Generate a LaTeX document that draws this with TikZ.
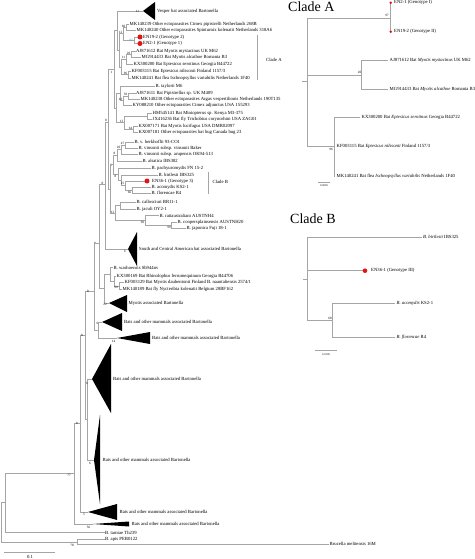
\documentclass[tikz,border=0pt]{standalone}
\usepackage{fontspec}
\setmainfont{Liberation Serif}
\definecolor{lg}{RGB}{165,165,165}
\definecolor{bsblue}{RGB}{70,130,200}
\definecolor{dotred}{RGB}{228,20,20}
\tikzset{
 br/.style={draw=lg, line width=0.45pt},
 lf/.style={anchor=west, inner sep=0.5pt, font=\fontsize{4.7}{5}\selectfont},
 lfd/.style={anchor=west, inner sep=1.5pt, font=\fontsize{4.7}{5}\selectfont},
 bs/.style={inner sep=0pt, font=\fontsize{3.3}{3.5}\selectfont},
 sbl/.style={inner sep=0pt, font=\fontsize{2.8}{3}\selectfont},
 tri/.style={fill=black},
 rdot/.style={circle, fill=dotred, inner sep=0pt, minimum size=#1},
 ttl/.style={anchor=base west, inner sep=0pt, font=\fontsize{14}{15}\selectfont},
}
\begin{document}
\begin{tikzpicture}[x=1pt,y=-1pt]
\useasboundingbox (0,0) rectangle (474,559);
\fill[white] (0,0) rectangle (474,559);

% ---------------- top group ----------------
\coordinate (V) at (143,11);
\coordinate (nC) at (117,30.5);
\coordinate (n60) at (126,27);
\coordinate (n97) at (134,40.5);
\coordinate (n12) at (123,33.5);
\coordinate (n20) at (131,54);
\coordinate (n11) at (126,59);
\coordinate (n96) at (128,74.5);
\coordinate (nA) at (121,66.75);
\coordinate (nB) at (119,50);
\coordinate (e1) at (140,37);
\coordinate (e2) at (140,43.5);

\node[lf] (tV) at (156.5,11) {Vesper bat associated Bartonella};
\node[lf] (l1) at (129,24) {MK140239 Other ectoparasites Cimex pipistrelli Netherlands 268B};
\node[lf] (l2) at (136,30) {MK140240 Other ectoparasites Spinturnix kolenatii Netherlands 318A6};
\node[lf] (l3) at (142.5,37) {EN19-2 (Genotype 2)};
\node[lf] (l4) at (142.5,43.5) {EN2-1 (Genotype 1)};
\node[lf] (l5) at (135.5,51) {AJ871612 Bat Myotis mystacinus UK M62};
\node[lf] (l6) at (141,57) {MG914433 Bat Myotis alcathoe Romania B3};
\node[lf] (l7) at (133,64) {KX300200 Bat Eptesicus serotinus Georgia B44722};
\node[lf] (l8) at (131,71) {KF003115 Bat Eptesicus nilssonii Finland 1157/3};
\node[lf] (l9) at (131,78) {MK140241 Bat flea Ischnopsyllus variabilis Netherlands 1F40};

\fill[tri] (V) -- (155,2) -- (155,20) -- cycle;
\draw[br] (n60) |- (l1.west);
\draw[br] (n60) |- (l2.west);
\draw[br] (n97) |- (e1);
\draw[br] (n97) |- (e2);
\draw[br] (n12) |- (n60);
\draw[br] (n12) |- (n97);
\draw[br] (n20) |- (l5.west);
\draw[br] (n20) |- (l6.west);
\draw[br] (n11) |- (n20);
\draw[br] (n11) |- (l7.west);
\draw[br] (n96) |- (l8.west);
\draw[br] (n96) |- (l9.west);
\draw[br] (nA) |- (n11);
\draw[br] (nA) |- (n96);
\draw[br] (nB) |- (n12);
\draw[br] (nB) |- (nA);
\draw[br] (nC) |- (V);
\draw[br] (nC) |- (nB);
\node[rdot=5pt] (d1) at (e1) {};
\node[rdot=5pt] (d2) at (e2) {};

\node[bs] (b1) at (137.5,11) {11};
\node[bs] (b2) at (123.5,26) {60};
\node[bs,text=bsblue] (b3) at (131,40) {97};
\node[bs] (b4) at (120.5,32.5) {12};
\node[bs] (b5) at (128.5,53) {20};
\node[bs] (b6) at (123.5,57.5) {11};
\node[bs] (b7) at (125.5,73) {96};

% ---------------- second group ----------------
\coordinate (n59) at (128,96);
\coordinate (n43) at (123,100.5);
\coordinate (nH) at (147,116);
\coordinate (n64) at (133,129);
\coordinate (nHK) at (124,122.5);
\coordinate (nTay) at (120,93);
\coordinate (nD) at (116,108);
\coordinate (n1) at (114,69);

\node[lf] (l10) at (155,86) {B. taylorii M6};
\node[lf] (l11) at (135.5,93) {AJ871611 Bat Pipistrellus sp. UK M409};
\node[lf] (l12) at (140,99) {MK140238 Other ectoparasites Argas vespertilionis Netherlands 190T135};
\node[lf] (l13) at (132,105) {KY088210 Other ectoparasites Cimex adjunctus USA 155293};
\node[lf] (l14) at (152,113) {HM545141 Bat Miniopterus sp. Kenya M3-375};
\node[lf] (l15) at (152,119) {JX416236 Bat fly Trichobius corynorhini USA ZAG01};
\node[lf] (l16) at (138,126) {KX007171 Bat Myotis lucifugus USA DMR02097};
\node[lf] (l17) at (138,132) {KX007181 Other ectoparasites bat bug Canada bug 23};

\draw[br] (n59) |- (l11.west);
\draw[br] (n59) |- (l12.west);
\draw[br] (n43) |- (n59);
\draw[br] (n43) |- (l13.west);
\draw[br] (nTay) |- (l10.west);
\draw[br] (nTay) |- (n43);
\draw[br] (nH) |- (l14.west);
\draw[br] (nH) |- (l15.west);
\draw[br] (n64) |- (l16.west);
\draw[br] (n64) |- (l17.west);
\draw[br] (nHK) |- (nH);
\draw[br] (nHK) |- (n64);
\draw[br] (nD) |- (nTay);
\draw[br] (nD) |- (nHK);
\draw[br] (n1) |- (nC);
\draw[br] (n1) |- (nD);

\node[bs] (b8) at (111.5,72) {1};
\node[bs] (b9) at (125.5,94.5) {59};
\node[bs] (b10) at (120.5,99) {43};
\node[bs] (b11) at (121.5,121) {13};
\node[bs] (b12) at (130.5,128) {64};

% ---------------- vinsonii / clade B group ----------------
\coordinate (n47) at (125,145);
\coordinate (n20b) at (121,149.5);
\coordinate (n8a) at (117,155.25);
\coordinate (n66) at (132,190);
\coordinate (n25) at (125,185.5);
\coordinate (nBir) at (121,180.25);
\coordinate (n8b) at (118,174);
\coordinate (n6) at (113,164.6);
\coordinate (e3) at (147,181);

\node[lf] (l18) at (134,142) {B. v. berkhoffii 93-CO1};
\node[lf] (l19) at (138,148) {B. vinsonii subsp. vinsonii Baker};
\node[lf] (l20) at (138,154) {B. vinsonii subsp. arupensis OK94-513};
\node[lf] (l21) at (142,161) {B. alsatica IBS382};
\node[lf] (l22) at (151,168) {B. pachyuromydis FN 15-2};
\node[lf] (l23) at (158,175) {B. birtlesii IBS325};
\node[lf] (l24) at (151.5,181) {EN36-1 (Genotype 3)};
\node[lf] (l25) at (151,187) {B. acomydis KS2-1};
\node[lf] (l26) at (151,193) {B. florencae R4};

\draw[br] (n47) |- (l18.west);
\draw[br] (n47) |- (l19.west);
\draw[br] (n20b) |- (n47);
\draw[br] (n20b) |- (l20.west);
\draw[br] (n8a) |- (n20b);
\draw[br] (n8a) |- (l21.west);
\draw[br] (n66) |- (l25.west);
\draw[br] (n66) |- (l26.west);
\draw[br] (n25) |- (e3);
\draw[br] (n25) |- (n66);
\draw[br] (nBir) |- (l23.west);
\draw[br] (nBir) |- (n25);
\draw[br] (n8b) |- (l22.west);
\draw[br] (n8b) |- (nBir);
\draw[br] (n6) |- (n8a);
\draw[br] (n6) |- (n8b);
\node[rdot=5pt] (d3) at (e3) {};

\node[bs] (b13) at (122.5,143) {47};
\node[bs] (b14) at (118.5,147.5) {20};
\node[bs] (b15) at (114.5,153.5) {8};
\node[bs] (b16) at (111,165) {6};
\node[bs] (b17) at (115.5,176) {8};
\node[bs] (b18) at (122.5,183.5) {25};
\node[bs] (b19) at (129.5,192.5) {66};

% Clade brackets in main tree
\coordinate (cAt) at (257,35);
\coordinate (cAb) at (257,80.5);
\draw[br] (cAt) -- (cAb);
\node[lf] (cA) at (265.5,60) {Clade A};
\coordinate (cBt) at (208,171.5);
\coordinate (cBb) at (208,193.5);
\draw[br] (cBt) -- (cBb);
\node[lf] (cB) at (212,182) {Clade B};

% ---------------- rodent group ----------------
\coordinate (nCJ) at (120,205.5);
\coordinate (n99j) at (171,225.25);
\coordinate (n96b) at (145,220.4);
\coordinate (n12b) at (115,213);
\coordinate (nR) at (110,188.8);
\coordinate (nE) at (108,122);
\coordinate (SC) at (128,249);
\coordinate (nX1) at (105,184);

\node[lf] (l27) at (136,202) {B. callosciuri BR11-1};
\node[lf] (l28) at (136,209) {B. jaculi OY2-1};
\node[lf] (l29) at (159,215.5) {B. rattaustraliani AUSTNH4};
\node[lf] (l30) at (177,222) {B. coopersplainsensis AUSTNH20};
\node[lf] (l31) at (186,228.5) {B. japonica Fuji 18-1};
\node[lf] (tSC) at (138.5,249) {South and Central American bat associated Bartonella};

\draw[br] (nCJ) |- (l27.west);
\draw[br] (nCJ) |- (l28.west);
\draw[br] (n99j) |- (l30.west);
\draw[br] (n99j) |- (l31.west);
\draw[br] (n96b) |- (l29.west);
\draw[br] (n96b) |- (n99j);
\draw[br] (n12b) |- (nCJ);
\draw[br] (n12b) |- (n96b);
\draw[br] (nR) |- (n6);
\draw[br] (nR) |- (n12b);
\draw[br] (nE) |- (n1);
\draw[br] (nE) |- (nR);
\fill[tri] (SC) -- (137,232) -- (137,266) -- cycle;
\draw[br] (nX1) |- (nE);
\draw[br] (nX1) |- (SC);

\node[bs] (b20) at (106,120) {8};
\node[bs] (b21) at (112.5,212) {12};
\node[bs] (b22) at (142.5,222) {96};
\node[bs] (b23) at (169,227) {99};
\node[bs] (b24) at (125,251.5) {6};
\node[bs] (b25) at (102.5,183.5) {8};

% ---------------- washoensis / Myotis ----------------
\coordinate (n99w) at (119,285.75);
\coordinate (nK) at (114,280.9);
\coordinate (nWa) at (110,274.2);
\coordinate (My) at (109,303);
\coordinate (nMy) at (104,288.6);
\coordinate (nX3) at (99,243);

\node[lf] (l32) at (113,267.5) {B. washoensis Sb944nv};
\node[lf] (l33) at (116,276) {KX300169 Bat Rhinolophus ferrumequinum Georgia B44706};
\node[lf] (l34) at (124,282.5) {KF003129 Bat Myotis daubentonii Finland B. naantaliensis 2574/1};
\node[lf] (l35) at (122,289) {MK140189 Bat fly Nycteribia kolenatii Belgium 28BF162};
\node[lf] (tMy) at (128,303) {Myotis associated Bartonella};

\draw[br] (n99w) |- (l34.west);
\draw[br] (n99w) |- (l35.west);
\draw[br] (nK) |- (l33.west);
\draw[br] (nK) |- (n99w);
\draw[br] (nWa) |- (l32.west);
\draw[br] (nWa) |- (nK);
\fill[tri] (My) -- (127,295) -- (127,312) -- cycle;
\draw[br] (nMy) |- (nWa);
\draw[br] (nMy) |- (My);
\draw[br] (nX3) |- (nX1);
\draw[br] (nX3) |- (nMy);

\node[bs] (b26) at (95,243.5) {8};
\node[bs] (b27) at (116,287.8) {99};
\node[bs] (b28) at (105,304.5) {22};

% ---------------- lower big clades ----------------
\coordinate (T2) at (102,322);
\coordinate (T3) at (117,338);
\coordinate (nT23) at (98,330);
\coordinate (nX4) at (94,291);
\coordinate (T4) at (92,379);
\coordinate (T5) at (94,460);
\coordinate (nT45) at (87,419.5);
\coordinate (nQ) at (85,335);
\coordinate (T6) at (88,512);
\coordinate (nX7) at (80,423);
\coordinate (T7) at (93,524);
\coordinate (n77) at (74,473);
\coordinate (nA0) at (5,502);
\coordinate (n78) at (77,542);
\coordinate (root) at (1,521);

\fill[tri] (T2) -- (122,313) -- (122,331) -- cycle;
\fill[tri] (T3) -- (150,332) -- (150,344) -- cycle;
\fill[tri] (T4) -- (111,344) -- (111,413) -- cycle;
\fill[tri] (T5) -- (100,415) -- (100,504) -- cycle;
\fill[tri] (T6) -- (117,504) -- (117,520) -- cycle;
\fill[tri] (T7) -- (129,521.5) -- (129,526.5) -- cycle;

\node[lf] (tT2) at (123.5,322) {Bats and other mammals associated Bartonella};
\node[lf] (tT3) at (151.5,338) {Bats and other mammals associated Bartonella};
\node[lf] (tT4) at (112.5,379) {Bats and other mammals associated Bartonella};
\node[lf] (tT5) at (102,460) {Bats and other mammals associated Bartonella};
\node[lf] (tT6) at (119,512) {Bats and other mammals associated Bartonella};
\node[lf] (tT7) at (131,524) {Bats and other mammals associated Bartonella};
\node[lf] (l36) at (104.5,532.5) {B. tamiae Th239};
\node[lf] (l37) at (104.5,539.3) {B. apis PEB0122};
\node[lf] (l38) at (329,544.3) {Brucella melitensis 16M};

\draw[br] (nT23) |- (T2);
\draw[br] (nT23) |- (T3);
\draw[br] (nX4) |- (nX3);
\draw[br] (nX4) |- (nT23);
\draw[br] (nT45) |- (T4);
\draw[br] (nT45) |- (T5);
\draw[br] (nQ) |- (nX4);
\draw[br] (nQ) |- (nT45);
\draw[br] (nX7) |- (nQ);
\draw[br] (nX7) |- (T6);
\draw[br] (n77) |- (nX7);
\draw[br] (n77) |- (T7);
\draw[br] (nA0) |- (n77);
\draw[br] (nA0) |- (l36.west);
\draw[br] (n78) |- (l37.west);
\draw[br] (n78) |- (l38.west);
\draw[br] (root) |- (nA0);
\draw[br] (root) |- (n78);

\node[bs] (b29) at (97.5,323.5) {6};
\node[bs] (b30) at (113.5,341) {14};
\node[bs] (b31) at (88,291.5) {8};
\node[bs] (b32) at (82,335.5) {8};
\node[bs] (b33) at (87,383) {6};
\node[bs] (b34) at (77,423.5) {8};
\node[bs] (b35) at (90,463.5) {6};
\node[bs] (b36) at (69,475) {77};
\node[bs] (b37) at (84,514.5) {5};
\node[bs] (b38) at (88.5,527) {56};
\node[bs] (b39) at (72,545) {78};

% scale bar
\coordinate (sb1) at (4,552.7);
\coordinate (sb2) at (55,552.7);
\draw[br] (sb1) -- (sb2);
\node[inner sep=0pt, font=\fontsize{4.7}{5}\selectfont] (sbt) at (30,557) {0.1};

% ---------------- Clade A detail ----------------
\node[ttl] (ttlA) at (288,12) {Clade A};
\coordinate (aS) at (302,81.7);
\coordinate (aR) at (307,81.7);
\coordinate (aEN) at (390.7,18.3);
\coordinate (ae1) at (390.7,2.7);
\coordinate (ae2) at (390.7,31.7);
\coordinate (aAM) at (361.7,75);
\coordinate (aKX) at (334,146.7);

\node[lfd] (at1) at (392.5,2.7) {EN2-1 (Genotype I)};
\node[lfd] (at2) at (392.5,31.7) {EN19-2 (Genotype II)};
\node[lfd] (at3) at (388,60.7) {AJ871612 Bat \textit{Myotis mystacinus} UK M62};
\node[lfd] (at4) at (388,89.3) {MG914433 Bat \textit{Myotis alcathoe} Romania B3};
\node[lfd] (at5) at (360,117.5) {KX300200 Bat \textit{Eptesicus serotinus} Georgia B44722};
\node[lfd] (at6) at (335,146.7) {KF003115 Bat \textit{Eptesicus nilssonii} Finland 1157/3};
\node[lfd] (at7) at (335,176) {MK140241 Bat flea \textit{Ischnopsyllus variabilis} Netherlands 1F40};

\draw[br] (aS) -- (aR);
\draw[br] (aR) |- (aEN);
\draw[br] (ae1) -- (ae2);
\draw[br] (aR) |- (aAM);
\draw[br] (aAM) |- (at3.west);
\draw[br] (aAM) |- (at4.west);
\draw[br] (aR) |- (aKX);
\draw[br] (aKX) |- (at5.west);
\draw[br] (aKX) |- (at6.west);
\draw[br] (aKX) |- (at7.west);
\node[rdot=2.8pt] (ad1) at (ae1) {};
\node[rdot=2.8pt] (ad2) at (ae2) {};

\node[bs] (ab1) at (387,15.5) {97};
\node[bs] (ab2) at (359.5,72.5) {20};
\node[bs] (ab3) at (331,149.5) {96};

\coordinate (asb1) at (318,182);
\coordinate (asb2) at (330,182);
\draw[br] (asb1) -- (asb2);
\node[sbl] (asbt) at (324,186) {0.0050};

% ---------------- Clade B detail ----------------
\node[ttl] (ttlB) at (290,223) {Clade B};
\coordinate (bS) at (302.5,279);
\coordinate (bR) at (307.3,279);
\coordinate (be) at (365,270.7);
\coordinate (b68) at (332.7,320.5);

\node[lfd] (bt1) at (421.5,237.3) {\textit{B. birtlesii} IBS325};
\node[lfd] (bt2) at (369.5,270.7) {EN36-1 (Genotype III)};
\node[lfd] (bt3) at (395,303.3) {\textit{B. acomydis} KS2-1};
\node[lfd] (bt4) at (395,337.3) {\textit{B. florencae} R4};

\draw[br] (bS) -- (bR);
\draw[br] (bR) |- (bt1.west);
\draw[br] (bR) |- (be);
\draw[br] (bR) |- (b68);
\draw[br] (b68) |- (bt3.west);
\draw[br] (b68) |- (bt4.west);
\node[rdot=4.6pt] (bd) at (be) {};

\node[bs] (bb1) at (330,318) {68};

\coordinate (bsb1) at (315,350);
\coordinate (bsb2) at (336.7,350);
\draw[br] (bsb1) -- (bsb2);
\node[sbl] (bsbt) at (326,354.5) {0.0100};
\end{tikzpicture}
\end{document}
